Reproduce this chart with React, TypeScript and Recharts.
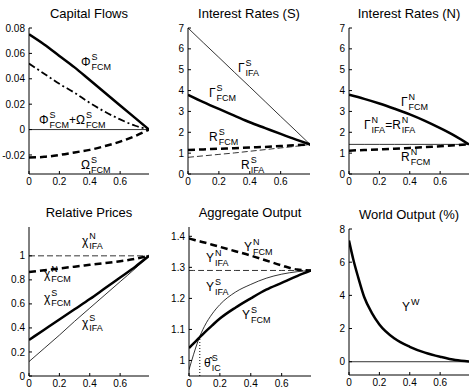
import React from 'react';
import { LineChart, Line, XAxis, YAxis, ReferenceLine, ReferenceArea } from 'recharts';

// shared grids
const xs = [0, 0.1, 0.2, 0.3, 0.4, 0.5, 0.6, 0.7, 0.79];
const xsFine = [0, 0.03, 0.06, 0.1, 0.15, 0.2, 0.3, 0.4, 0.5, 0.6, 0.7, 0.79];
const xTicks = [0, 0.2, 0.4, 0.6];
const xMax = 0.79;

// Capital Flows
const phiFCM = [0.075, 0.067, 0.058, 0.049, 0.039, 0.029, 0.019, 0.009, 0];
const phiPlusOmega = [0.052, 0.044, 0.036, 0.029, 0.021, 0.014, 0.008, 0.003, 0];
const omegaFCM = [-0.022, -0.0215, -0.02, -0.018, -0.016, -0.013, -0.0095, -0.005, 0];
const flowTicks = [-0.02, 0, 0.02, 0.04, 0.06, 0.08];

// Interest Rates (S)
const gammaIFA_S = [7, 6.29, 5.59, 4.88, 4.18, 3.47, 2.76, 2.06, 1.42];
const gammaFCM_S = [3.8, 3.45, 3.12, 2.8, 2.48, 2.2, 1.92, 1.65, 1.42];
const rFCM_S = [1.15, 1.18, 1.21, 1.24, 1.27, 1.3, 1.34, 1.38, 1.42];
const rIFA_S = [0.8, 0.87, 0.94, 1.01, 1.09, 1.17, 1.25, 1.33, 1.42];
const rateTicks = [0, 1, 2, 3, 4, 5, 6, 7];

// Interest Rates (N)
const gammaFCM_N = [3.8, 3.6, 3.38, 3.13, 2.86, 2.55, 2.2, 1.82, 1.42];
const gammaIFA_N = [1.42, 1.42, 1.42, 1.42, 1.42, 1.42, 1.42, 1.42, 1.42];
const rFCM_N = [1.12, 1.15, 1.18, 1.21, 1.25, 1.29, 1.33, 1.38, 1.42];

// Relative Prices
const chiIFA_N = [1, 1, 1, 1, 1, 1, 1, 1, 1];
const chiFCM_N = [0.865, 0.88, 0.895, 0.91, 0.925, 0.94, 0.955, 0.975, 1.0];
const chiFCM_S = [0.3, 0.385, 0.47, 0.555, 0.64, 0.73, 0.82, 0.91, 1.0];
const chiIFA_S = [0.12, 0.23, 0.34, 0.455, 0.565, 0.675, 0.785, 0.895, 1.0];
const priceTicks = [0, 0.2, 0.4, 0.6, 0.8, 1];

// Aggregate Output
const yFCM_N = [1.393, 1.389, 1.385, 1.38, 1.373, 1.366, 1.352, 1.338, 1.322, 1.306, 1.293, 1.29];
const yIFA_N = [1.29, 1.29, 1.29, 1.29, 1.29, 1.29, 1.29, 1.29, 1.29, 1.29, 1.29, 1.29];
const yIFA_S = [0.97, 1.02, 1.065, 1.11, 1.15, 1.18, 1.22, 1.245, 1.265, 1.278, 1.286, 1.29];
const yFCM_S = [1.04, 1.055, 1.07, 1.09, 1.113, 1.135, 1.17, 1.2, 1.228, 1.25, 1.272, 1.29];
const outputTicks = [1, 1.1, 1.2, 1.3, 1.4];
const thetaIC = 0.07;
const thetaCrossY = 1.07;

// World Output (%)
const yWorld = [7.3, 6.1, 5.1, 3.9, 2.95, 2.25, 1.4, 0.9, 0.55, 0.3, 0.1, 0.02];
const worldTicks = [0, 2, 4, 6, 8];

const T = 4, R = 4, YW = 34, XH = 20;
const THICK = 2.5, THIN = 0.8;

type Series = { key: string; values: number[]; width: number; dash?: string };

function Sym({ b, sup, sub }: { b: string; sup?: string; sub?: string }) {
  return (
    <span style={{ display: 'inline-flex', alignItems: 'center', whiteSpace: 'nowrap' }}>
      <span style={{ fontSize: 12 }}>{b}</span>
      <span style={{ display: 'inline-flex', flexDirection: 'column', fontSize: 9, lineHeight: '10px', marginLeft: 1 }}>
        <span>{sup || '\u00a0'}</span>
        <span>{sub || '\u00a0'}</span>
      </span>
    </span>
  );
}

function Tag({ left, top, children }: any) {
  return <div style={{ position: 'absolute', left, top, display: 'flex', alignItems: 'center', height: 20 }}>{children}</div>;
}

function Panel({ px, py, pw, ph, title, xVals, series, yDomain, yTicks, extra }: any) {
  const data = xVals.map((x: number, i: number) => {
    const row: any = { x };
    series.forEach((s: Series) => { row[s.key] = s.values[i]; });
    return row;
  });
  return (
    <>
      <div style={{ position: 'absolute', left: px - 10, top: py - 22, width: pw + 20, textAlign: 'center', fontSize: 13 }}>
        {title}
      </div>
      <div style={{ position: 'absolute', left: px - YW, top: py - T }}>
        <LineChart width={YW + pw + R} height={T + ph + XH} data={data} margin={{ top: T, right: R, bottom: 0, left: 0 }}>
          <XAxis
            type="number"
            dataKey="x"
            domain={[0, xMax]}
            ticks={xTicks}
            interval={0}
            allowDataOverflow
            height={XH}
            stroke="#000"
            tickSize={-3}
            tickMargin={7}
            tick={{ fontSize: 10, fill: '#000' }}
          />
          <YAxis
            type="number"
            domain={yDomain}
            ticks={yTicks}
            interval={0}
            allowDataOverflow
            width={YW}
            stroke="#000"
            tickSize={-3}
            tickMargin={7}
            tick={{ fontSize: 10, fill: '#000' }}
          />
          <ReferenceArea fill="none" stroke="#000" strokeWidth={1} />
          {extra}
          {series.map((s: Series) => (
            <Line
              key={s.key}
              dataKey={s.key}
              type="monotone"
              stroke="#000"
              strokeWidth={s.width}
              strokeDasharray={s.dash}
              dot={false}
              isAnimationActive={false}
            />
          ))}
        </LineChart>
      </div>
    </>
  );
}

export default function App() {
  return (
    <div
      style={{
        position: 'absolute',
        left: 0,
        top: 0,
        width: 474,
        height: 391,
        background: '#fff',
        fontFamily: '"Liberation Sans", Arial, Helvetica, sans-serif',
        color: '#000',
        overflow: 'hidden',
      }}
    >
      <Panel
        px={29} py={28} pw={120} ph={146}
        title="Capital Flows"
        xVals={xs}
        yDomain={[-0.035, 0.08]}
        yTicks={flowTicks}
        extra={<ReferenceLine y={0} stroke="#000" strokeWidth={THIN} />}
        series={[
          { key: 'phi', values: phiFCM, width: THICK },
          { key: 'phiOmega', values: phiPlusOmega, width: 1.8, dash: '7 3 2 3' },
          { key: 'omega', values: omegaFCM, width: THICK, dash: '7 4' },
        ]}
      />
      <Panel
        px={188} py={28} pw={122} ph={146}
        title="Interest Rates (S)"
        xVals={xs}
        yDomain={[0, 7]}
        yTicks={rateTicks}
        series={[
          { key: 'gIFA', values: gammaIFA_S, width: THIN },
          { key: 'gFCM', values: gammaFCM_S, width: THICK },
          { key: 'rFCM', values: rFCM_S, width: THICK, dash: '7 4' },
          { key: 'rIFA', values: rIFA_S, width: THIN, dash: '6 3' },
        ]}
      />
      <Panel
        px={349} py={28} pw={120} ph={146}
        title="Interest Rates (N)"
        xVals={xs}
        yDomain={[0, 7]}
        yTicks={rateTicks}
        series={[
          { key: 'gFCM', values: gammaFCM_N, width: THICK },
          { key: 'gIFA', values: gammaIFA_N, width: THIN },
          { key: 'rFCM', values: rFCM_N, width: THICK, dash: '7 4' },
        ]}
      />
      <Panel
        px={29} py={227} pw={120} ph={149}
        title="Relative Prices"
        xVals={xs}
        yDomain={[0, 1.24]}
        yTicks={priceTicks}
        series={[
          { key: 'cIFAn', values: chiIFA_N, width: THIN, dash: '6 3' },
          { key: 'cFCMn', values: chiFCM_N, width: THICK, dash: '7 4' },
          { key: 'cFCMs', values: chiFCM_S, width: THICK },
          { key: 'cIFAs', values: chiIFA_S, width: THIN },
        ]}
      />
      <Panel
        px={189} py={227} pw={122} ph={149}
        title="Aggregate Output"
        xVals={xsFine}
        yDomain={[0.95, 1.43]}
        yTicks={outputTicks}
        extra={
          <ReferenceLine
            segment={[{ x: thetaIC, y: 0.95 }, { x: thetaIC, y: thetaCrossY }]}
            stroke="#000"
            strokeWidth={1}
            strokeDasharray="1 2"
          />
        }
        series={[
          { key: 'yFCMn', values: yFCM_N, width: THICK, dash: '7 4' },
          { key: 'yIFAn', values: yIFA_N, width: THIN, dash: '6 3' },
          { key: 'yIFAs', values: yIFA_S, width: THIN },
          { key: 'yFCMs', values: yFCM_S, width: THICK },
        ]}
      />
      <Panel
        px={349} py={229} pw={120} ph={146}
        title="World Output (%)"
        xVals={xsFine}
        yDomain={[-0.8, 8]}
        yTicks={worldTicks}
        extra={<ReferenceLine y={0} stroke="#000" strokeWidth={THIN} />}
        series={[{ key: 'yw', values: yWorld, width: THICK }]}
      />

      {/* curve labels */}
      <Tag left={81} top={52}><Sym b="Φ" sup="S" sub="FCM" /></Tag>
      <Tag left={39} top={110}>
        <Sym b="Φ" sup="S" sub="FCM" /><span style={{ fontSize: 12 }}>+</span><Sym b="Ω" sup="S" sub="FCM" />
      </Tag>
      <Tag left={81} top={155}><Sym b="Ω" sup="S" sub="FCM" /></Tag>

      <Tag left={238} top={58}><Sym b="Γ" sup="S" sub="IFA" /></Tag>
      <Tag left={209} top={83}><Sym b="Γ" sup="S" sub="FCM" /></Tag>
      <Tag left={209} top={127}><Sym b="R" sup="S" sub="FCM" /></Tag>
      <Tag left={241} top={155}><Sym b="R" sup="S" sub="IFA" /></Tag>

      <Tag left={401} top={92}><Sym b="Γ" sup="N" sub="FCM" /></Tag>
      <Tag left={364} top={115}>
        <Sym b="Γ" sup="N" sub="IFA" /><span style={{ fontSize: 12 }}>=</span><Sym b="R" sup="N" sub="IFA" />
      </Tag>
      <Tag left={401} top={147}><Sym b="R" sup="N" sub="FCM" /></Tag>

      <Tag left={82} top={231}><Sym b="χ" sup="N" sub="IFA" /></Tag>
      <Tag left={44} top={264}><Sym b="χ" sup="N" sub="FCM" /></Tag>
      <Tag left={44} top={288}><Sym b="χ" sup="S" sub="FCM" /></Tag>
      <Tag left={82} top={313}><Sym b="χ" sup="S" sub="IFA" /></Tag>

      <Tag left={244} top={237}><Sym b="Y" sup="N" sub="FCM" /></Tag>
      <Tag left={206} top={248}><Sym b="Y" sup="N" sub="IFA" /></Tag>
      <Tag left={206} top={277}><Sym b="Y" sup="S" sub="IFA" /></Tag>
      <Tag left={242} top={305}><Sym b="Y" sup="S" sub="FCM" /></Tag>
      <Tag left={204} top={353}><Sym b={'θ\u0302'} sup="S" sub="IC" /></Tag>

      <Tag left={402} top={297}><Sym b="Y" sup="W" /></Tag>
    </div>
  );
}
